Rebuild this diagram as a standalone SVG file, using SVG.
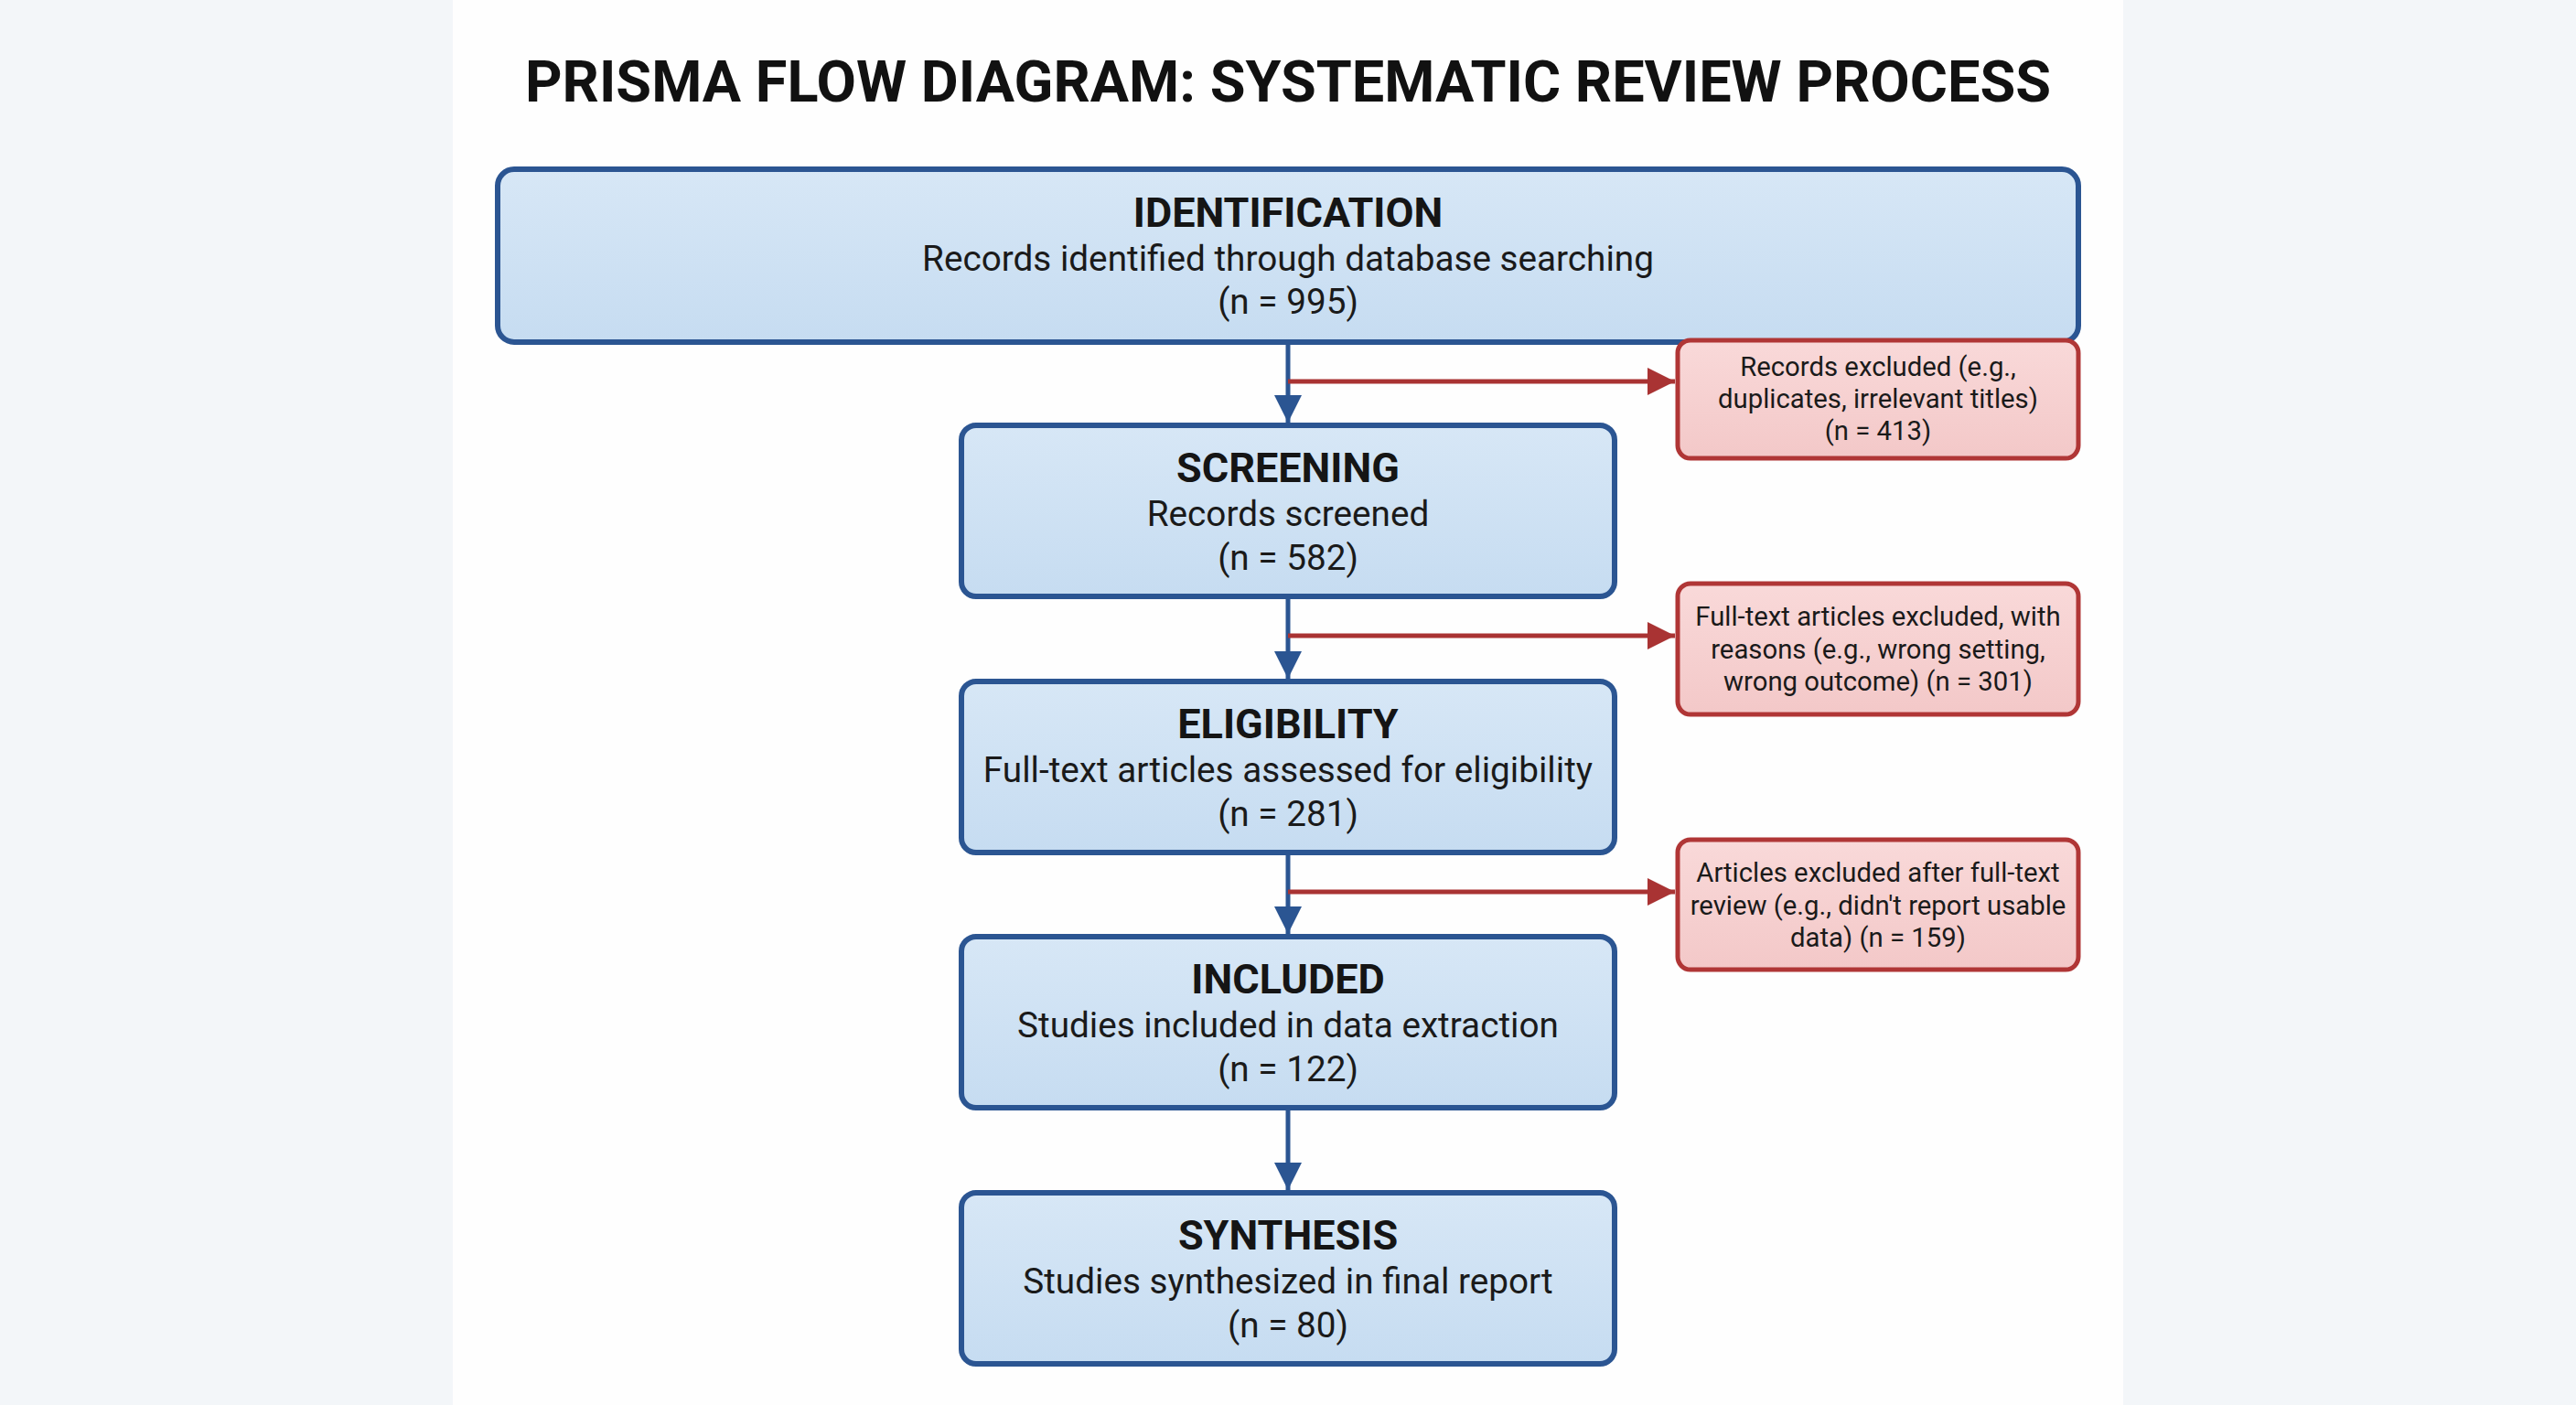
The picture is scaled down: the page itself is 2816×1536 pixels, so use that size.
<svg xmlns="http://www.w3.org/2000/svg" width="2816" height="1536" viewBox="0 0 2816 1536">
<defs>
<linearGradient id="gBlue" x1="0" y1="0" x2="0" y2="1">
<stop offset="0" stop-color="#d7e7f6"/>
<stop offset="1" stop-color="#c6dcf1"/>
</linearGradient>
<linearGradient id="gRed" x1="0" y1="0" x2="0" y2="1">
<stop offset="0" stop-color="#f9d9d9"/>
<stop offset="1" stop-color="#f3c8c8"/>
</linearGradient>
<marker id="ahBlue" viewBox="0 0 10 10" refX="10" refY="5" markerWidth="6" markerHeight="6" markerUnits="strokeWidth" orient="auto">
<path d="M0,0 L10,5 L0,10 Z" fill="#2b5592"/>
</marker>
<marker id="ahRed" viewBox="0 0 10 10" refX="10" refY="5" markerWidth="6" markerHeight="6" markerUnits="strokeWidth" orient="auto">
<path d="M0,0 L10,5 L0,10 Z" fill="#a93333"/>
</marker>
</defs>
<style>
.bg{fill:#f3f6f9}
.panel{fill:#fefefe}
.title{font-family:Roboto,"Liberation Sans",sans-serif;font-weight:700;font-size:63px;fill:#111;text-anchor:middle}
.blue{fill:url(#gBlue);stroke:#2b5592;stroke-width:6}
.red{fill:url(#gRed);stroke:#b03636;stroke-width:5}
.h{font-family:Roboto,"Liberation Sans",sans-serif;font-weight:700;font-size:45px;fill:#151515;text-anchor:middle}
.b{font-family:Roboto,"Liberation Sans",sans-serif;font-size:38.7px;fill:#1a1a1a;text-anchor:middle}
.s{font-family:Roboto,"Liberation Sans",sans-serif;font-size:29.3px;fill:#1a1a1a;text-anchor:middle}
.cb{stroke:#2b5592;stroke-width:5;fill:none;marker-end:url(#ahBlue)}
.cr{stroke:#a93333;stroke-width:5;fill:none;marker-end:url(#ahRed)}
</style>
<rect class="bg" x="0" y="0" width="2816" height="1536"/>
<rect class="panel" x="495" y="0" width="1826" height="1536"/>
<text class="title" x="1408" y="111">PRISMA FLOW DIAGRAM: SYSTEMATIC REVIEW PROCESS</text>

<g id="connectors">
<line class="cb" x1="1408" y1="377" x2="1408" y2="462"/>
<line class="cb" x1="1408" y1="655" x2="1408" y2="742"/>
<line class="cb" x1="1408" y1="935" x2="1408" y2="1021"/>
<line class="cb" x1="1408" y1="1213" x2="1408" y2="1301"/>
<line class="cr" x1="1408" y1="417" x2="1831" y2="417"/>
<line class="cr" x1="1408" y1="695" x2="1831" y2="695"/>
<line class="cr" x1="1408" y1="975" x2="1831" y2="975"/>
</g>

<g id="identification">
<rect class="blue" x="544" y="185" width="1728" height="189" rx="18"/>
<text class="h" x="1408" y="248">IDENTIFICATION</text>
<text class="b" x="1408" y="296">Records identified through database searching</text>
<text class="b" x="1408" y="343">(n = 995)</text>
</g>

<g id="screening">
<rect class="blue" x="1051" y="465" width="714" height="187" rx="16"/>
<text class="h" x="1408" y="527">SCREENING</text>
<text class="b" x="1408" y="575">Records screened</text>
<text class="b" x="1408" y="623">(n = 582)</text>
</g>

<g id="eligibility">
<rect class="blue" x="1051" y="745" width="714" height="187" rx="16"/>
<text class="h" x="1408" y="807">ELIGIBILITY</text>
<text class="b" x="1408" y="855">Full-text articles assessed for eligibility</text>
<text class="b" x="1408" y="903">(n = 281)</text>
</g>

<g id="included">
<rect class="blue" x="1051" y="1024" width="714" height="187" rx="16"/>
<text class="h" x="1408" y="1086">INCLUDED</text>
<text class="b" x="1408" y="1134">Studies included in data extraction</text>
<text class="b" x="1408" y="1182">(n = 122)</text>
</g>

<g id="synthesis">
<rect class="blue" x="1051" y="1304" width="714" height="187" rx="16"/>
<text class="h" x="1408" y="1366">SYNTHESIS</text>
<text class="b" x="1408" y="1414">Studies synthesized in final report</text>
<text class="b" x="1408" y="1462">(n = 80)</text>
</g>

<g id="excluded-records">
<rect class="red" x="1834" y="372" width="438" height="129" rx="14"/>
<text class="s" x="2053" y="411">Records excluded (e.g.,</text>
<text class="s" x="2053" y="446">duplicates, irrelevant titles)</text>
<text class="s" x="2053" y="481">(n = 413)</text>
</g>

<g id="excluded-fulltext">
<rect class="red" x="1834" y="638" width="438" height="143" rx="14"/>
<text class="s" x="2053" y="684">Full-text articles excluded, with</text>
<text class="s" x="2053" y="720">reasons (e.g., wrong setting,</text>
<text class="s" x="2053" y="755">wrong outcome) (n = 301)</text>
</g>

<g id="excluded-after">
<rect class="red" x="1834" y="918" width="438" height="142" rx="14"/>
<text class="s" x="2053" y="964">Articles excluded after full-text</text>
<text class="s" x="2053" y="1000">review (e.g., didn't report usable</text>
<text class="s" x="2053" y="1035">data) (n = 159)</text>
</g>
</svg>
